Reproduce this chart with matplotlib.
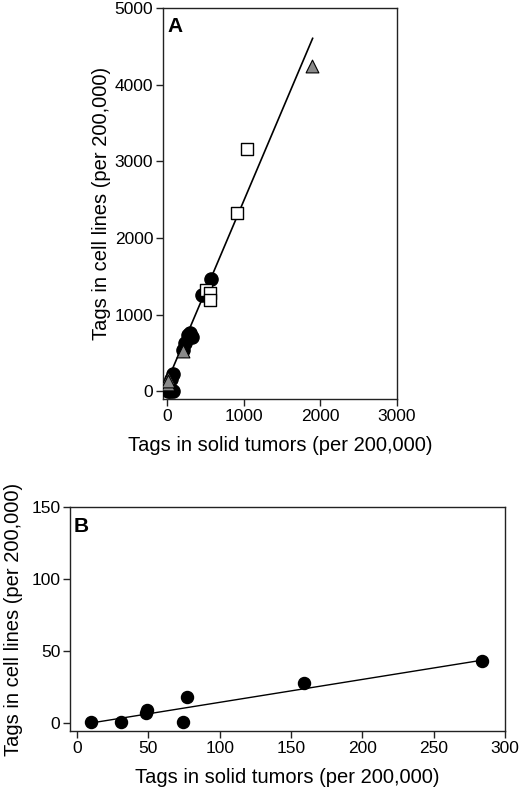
import numpy as np
import matplotlib
matplotlib.use("Agg")
import matplotlib.pyplot as plt

plt.rcParams['font.family'] = ['Liberation Sans', 'DejaVu Sans']

# panel A: tags in solid tumors (x) vs cell lines (y), per 200,000
circ_x = [570, 456, 274, 325, 300, 235, 210, 78, 60, 13, 80, 47, 30]
circ_y = [1470, 1260, 740, 714, 760, 636, 545, 220, 160, 0, 0, 10, 30]
sq_x = [1040, 910, 515, 560, 560]
sq_y = [3160, 2330, 1320, 1280, 1190]
tri_x = [1890, 210, 13, 13, 20]
tri_y = [4240, 520, 180, 90, 140]
fitA_x = [0, 1900]
fitA_b, fitA_a = 2.36, 120   # slope, intercept

# panel B: low-count tags
b_x = [10, 31, 48, 49, 74, 77, 159, 284]
b_y = [1, 1, 7, 9, 0.5, 18, 28, 43]
fitB_x = [10, 284]
fitB_b, fitB_a = 0.159, -1.5

fig = plt.figure(figsize=(5.2, 7.99), dpi=100)
axA = fig.add_axes([0.3135, 0.5006, 0.45, 0.4894])
axB = fig.add_axes([0.1346, 0.0851, 0.8365, 0.2804])

fx = np.array(fitA_x)
axA.plot(fx, fitA_a + fitA_b*fx, color='black', lw=1.2, zorder=1)
axA.scatter(circ_x, circ_y, s=90, marker='o', c='black', zorder=3)
axA.scatter(sq_x, sq_y, s=70, marker='s', facecolors='white', edgecolors='black', linewidths=1, zorder=3)
axA.scatter(tri_x, tri_y, s=85, marker='^', facecolors='#8a8a8a', edgecolors='black', linewidths=0.8, zorder=4)
axA.set_xlim(-50, 3000)
axA.set_ylim(-100, 5000)
axA.set_xticks([0, 1000, 2000, 3000])
axA.set_yticks([0, 1000, 2000, 3000, 4000, 5000])
axA.set_xlabel("Tags in solid tumors (per 200,000)", fontsize=14.5, labelpad=9)
axA.set_ylabel("Tags in cell lines (per 200,000)", fontsize=14.5, labelpad=3)
axA.text(0.02, 0.977, "A", transform=axA.transAxes, fontsize=15, fontweight='bold', va='top', ha='left')

fb = np.array(fitB_x)
axB.plot(fb, fitB_a + fitB_b*fb, color='black', lw=1.0, zorder=1)
axB.scatter(b_x, b_y, s=75, marker='o', c='black', zorder=3)
axB.set_xlim(-5, 300)
axB.set_ylim(-5.5, 150)
axB.set_xticks([0, 50, 100, 150, 200, 250, 300])
axB.set_yticks([0, 50, 100, 150])
axB.set_xlabel("Tags in solid tumors (per 200,000)", fontsize=14.5, labelpad=9)
axB.set_ylabel("Tags in cell lines (per 200,000)", fontsize=14.5, labelpad=6)
axB.text(0.009, 0.955, "B", transform=axB.transAxes, fontsize=15, fontweight='bold', va='top', ha='left')

for ax in (axA, axB):
    for sp in ax.spines.values():
        sp.set_linewidth(1.0)
        sp.set_color('#222222')
    ax.tick_params(direction='out', length=5, width=1, pad=2, labelsize=12.5, color='#222222')

fig.savefig("out.png", dpi=100)
